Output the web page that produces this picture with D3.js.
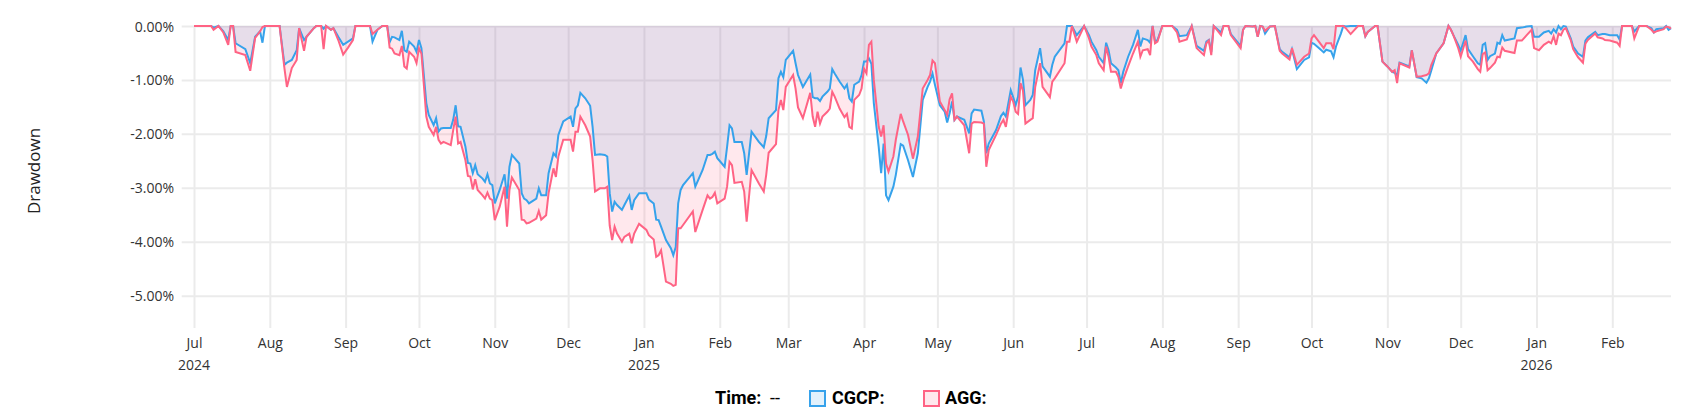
<!DOCTYPE html>
<html><head><meta charset="utf-8">
<script src="https://cdn.jsdelivr.net/npm/d3@7"></script>
<style>
html,body{margin:0;padding:0;background:#fff;}
svg{display:block;}
</style></head>
<body>
<svg id="chart" width="1692" height="408"></svg>
<script>
const dates = ["2024-07-01","2024-07-08","2024-07-09","2024-07-11","2024-07-13","2024-07-15","2024-07-16","2024-07-17","2024-07-18","2024-07-22","2024-07-24","2024-07-26","2024-07-28","2024-07-29","2024-07-30","2024-08-05","2024-08-07","2024-08-08","2024-08-10","2024-08-12","2024-08-13","2024-08-15","2024-08-16","2024-08-19","2024-08-20","2024-08-22","2024-08-23","2024-08-24","2024-08-26","2024-08-27","2024-08-29","2024-08-31","2024-09-02","2024-09-04","2024-09-05","2024-09-11","2024-09-12","2024-09-14","2024-09-16","2024-09-18","2024-09-19","2024-09-20","2024-09-21","2024-09-23","2024-09-24","2024-09-25","2024-09-26","2024-09-27","2024-09-29","2024-09-30","2024-10-01","2024-10-02","2024-10-04","2024-10-05","2024-10-07","2024-10-08","2024-10-09","2024-10-10","2024-10-11","2024-10-14","2024-10-15","2024-10-16","2024-10-17","2024-10-18","2024-10-20","2024-10-21","2024-10-22","2024-10-23","2024-10-24","2024-10-25","2024-10-27","2024-10-28","2024-10-29","2024-10-30","2024-10-31","2024-11-01","2024-11-03","2024-11-05","2024-11-06","2024-11-07","2024-11-08","2024-11-11","2024-11-12","2024-11-13","2024-11-14","2024-11-15","2024-11-18","2024-11-19","2024-11-20","2024-11-22","2024-11-23","2024-11-25","2024-11-26","2024-11-27","2024-11-29","2024-12-02","2024-12-03","2024-12-04","2024-12-05","2024-12-06","2024-12-08","2024-12-10","2024-12-11","2024-12-12","2024-12-14","2024-12-16","2024-12-17","2024-12-18","2024-12-19","2024-12-20","2024-12-21","2024-12-23","2024-12-24","2024-12-26","2024-12-27","2024-12-28","2024-12-30","2025-01-02","2025-01-03","2025-01-05","2025-01-06","2025-01-07","2025-01-08","2025-01-10","2025-01-12","2025-01-13","2025-01-14","2025-01-15","2025-01-16","2025-01-17","2025-01-21","2025-01-22","2025-01-25","2025-01-27","2025-01-28","2025-01-29","2025-01-30","2025-01-31","2025-02-03","2025-02-04","2025-02-05","2025-02-06","2025-02-07","2025-02-10","2025-02-11","2025-02-12","2025-02-14","2025-02-17","2025-02-19","2025-02-20","2025-02-21","2025-02-24","2025-02-25","2025-02-26","2025-02-27","2025-02-28","2025-03-03","2025-03-04","2025-03-05","2025-03-07","2025-03-10","2025-03-11","2025-03-12","2025-03-13","2025-03-14","2025-03-15","2025-03-17","2025-03-18","2025-03-19","2025-03-20","2025-03-22","2025-03-24","2025-03-25","2025-03-26","2025-03-27","2025-03-28","2025-03-30","2025-03-31","2025-04-01","2025-04-02","2025-04-03","2025-04-04","2025-04-05","2025-04-07","2025-04-08","2025-04-09","2025-04-10","2025-04-11","2025-04-13","2025-04-14","2025-04-16","2025-04-17","2025-04-19","2025-04-21","2025-04-23","2025-04-25","2025-04-27","2025-04-28","2025-04-29","2025-04-30","2025-05-02","2025-05-04","2025-05-05","2025-05-06","2025-05-07","2025-05-08","2025-05-09","2025-05-12","2025-05-14","2025-05-15","2025-05-16","2025-05-19","2025-05-20","2025-05-21","2025-05-22","2025-05-25","2025-05-27","2025-05-28","2025-05-29","2025-05-31","2025-06-01","2025-06-02","2025-06-03","2025-06-04","2025-06-05","2025-06-06","2025-06-08","2025-06-09","2025-06-10","2025-06-12","2025-06-13","2025-06-16","2025-06-17","2025-06-18","2025-06-22","2025-06-23","2025-06-24","2025-06-25","2025-06-27","2025-06-30","2025-07-02","2025-07-03","2025-07-05","2025-07-06","2025-07-08","2025-07-09","2025-07-10","2025-07-11","2025-07-13","2025-07-14","2025-07-15","2025-07-16","2025-07-18","2025-07-20","2025-07-22","2025-07-23","2025-07-24","2025-07-26","2025-07-27","2025-07-28","2025-07-29","2025-07-30","2025-08-01","2025-08-05","2025-08-07","2025-08-08","2025-08-11","2025-08-13","2025-08-15","2025-08-18","2025-08-19","2025-08-20","2025-08-21","2025-08-22","2025-08-25","2025-08-26","2025-08-28","2025-08-29","2025-09-02","2025-09-03","2025-09-04","2025-09-07","2025-09-08","2025-09-09","2025-09-10","2025-09-11","2025-09-12","2025-09-14","2025-09-16","2025-09-18","2025-09-19","2025-09-22","2025-09-23","2025-09-25","2025-09-28","2025-09-30","2025-10-01","2025-10-02","2025-10-04","2025-10-06","2025-10-07","2025-10-09","2025-10-10","2025-10-11","2025-10-13","2025-10-14","2025-10-15","2025-10-17","2025-10-20","2025-10-22","2025-10-23","2025-10-24","2025-10-27","2025-10-28","2025-10-30","2025-11-01","2025-11-03","2025-11-04","2025-11-05","2025-11-06","2025-11-10","2025-11-11","2025-11-13","2025-11-15","2025-11-17","2025-11-18","2025-11-19","2025-11-21","2025-11-24","2025-11-26","2025-11-27","2025-11-28","2025-11-30","2025-12-01","2025-12-03","2025-12-04","2025-12-06","2025-12-08","2025-12-09","2025-12-10","2025-12-11","2025-12-12","2025-12-13","2025-12-15","2025-12-16","2025-12-17","2025-12-18","2025-12-19","2025-12-23","2025-12-24","2025-12-26","2025-12-28","2025-12-30","2025-12-31","2026-01-02","2026-01-04","2026-01-06","2026-01-07","2026-01-08","2026-01-09","2026-01-10","2026-01-11","2026-01-12","2026-01-13","2026-01-15","2026-01-16","2026-01-18","2026-01-20","2026-01-21","2026-01-22","2026-01-25","2026-01-26","2026-01-28","2026-01-29","2026-01-31","2026-02-03","2026-02-04","2026-02-05","2026-02-09","2026-02-10","2026-02-12","2026-02-15","2026-02-17","2026-02-18","2026-02-19","2026-02-22","2026-02-23","2026-02-24","2026-02-25"];

const cgcp = [0,0,-0.03,0,-0.1,-0.26,0,0,-0.32,-0.43,-0.69,-0.2,-0.1,-0.31,0,0,-0.72,-0.68,-0.63,-0.45,-0.04,-0.26,-0.2,-0.04,0,0,-0.05,0,-0.07,-0.04,-0.2,-0.35,-0.29,-0.23,0,0,-0.29,-0.07,0,0,-0.3,-0.2,-0.21,-0.26,-0.09,-0.45,-0.48,-0.29,-0.38,-0.48,-0.26,-0.41,-1.43,-1.65,-1.84,-1.71,-1.96,-1.9,-1.89,-1.89,-1.74,-1.47,-1.86,-1.87,-2.24,-2.54,-2.55,-2.73,-2.58,-2.75,-2.83,-2.89,-2.75,-2.92,-2.95,-3.29,-3.04,-2.75,-3.2,-2.61,-2.39,-2.55,-3.1,-3.2,-3.23,-3.29,-3.2,-3.01,-3.14,-3.14,-2.73,-2.36,-2.42,-2.02,-1.77,-1.68,-1.87,-1.53,-1.47,-1.24,-1.34,-1.48,-1.87,-2.39,-2.38,-2.39,-2.42,-3.1,-3.44,-3.26,-3.32,-3.41,-3.32,-3.15,-3.41,-3.23,-3.1,-3.1,-3.22,-3.29,-3.59,-3.6,-3.72,-3.97,-4.12,-4.25,-4.1,-3.29,-3.04,-2.95,-2.73,-2.98,-2.67,-2.39,-2.39,-2.37,-2.33,-2.45,-2.61,-2.24,-1.84,-1.9,-2.15,-2.15,-2.36,-2.76,-1.96,-2.15,-2.25,-2.04,-1.71,-1.56,-0.97,-0.85,-0.95,-0.63,-0.46,-0.69,-0.91,-1.13,-0.9,-1.32,-1.34,-1.34,-1.39,-1.31,-1.22,-1.16,-0.8,-0.88,-1.03,-1.16,-1.09,-1.34,-1.4,-1.09,-1.03,-0.91,-0.66,-0.66,-0.6,-0.7,-1.43,-2.24,-2.73,-2.18,-3.14,-3.23,-2.98,-2.76,-2.19,-2.22,-2.49,-2.8,-2.36,-1.37,-1.13,-1.03,-0.88,-1.09,-1.47,-1.59,-1.79,-1.62,-1.4,-1.74,-1.68,-1.74,-1.99,-1.62,-1.55,-1.57,-1.77,-2.36,-2.18,-1.93,-1.67,-1.61,-1.68,-1.19,-1.32,-1.47,-1.31,-0.77,-1.0,-1.47,-1.37,-1.28,-0.82,-0.41,-0.75,-0.94,-0.72,-0.57,-0.32,0,0,0,-0.17,0,-0.17,-0.29,-0.45,-0.57,-0.69,-0.31,-0.45,-0.69,-0.77,-0.82,-1.06,-0.85,-0.57,-0.35,-0.07,-0.38,-0.23,-0.26,-0.31,0,-0.29,-0.26,0,0,-0.07,-0.19,-0.17,0,-0.37,-0.46,-0.29,-0.26,-0.48,0,-0.12,0,0,-0.15,-0.37,-0.07,0,-0.01,0,-0.2,0,-0.01,-0.14,-0.01,0,-0.43,-0.48,-0.58,-0.43,-0.8,-0.63,-0.58,-0.31,-0.33,-0.41,-0.49,-0.44,-0.47,-0.58,-0.38,-0.14,0,-0.01,0,0,0,-0.19,-0.11,0,0,-0.66,-0.75,-0.85,-0.87,-0.91,-0.68,-0.75,-0.45,-0.95,-0.97,-1.05,-0.97,-0.82,-0.51,-0.32,0,-0.07,-0.17,-0.35,-0.46,-0.17,-0.43,-0.56,-0.69,-0.72,-0.35,-0.32,-0.63,-0.56,-0.51,-0.31,-0.33,-0.17,-0.27,-0.23,-0.04,-0.03,-0.01,0,-0.2,-0.2,-0.12,-0.09,-0.14,-0.06,-0.12,0,-0.06,0,-0.01,-0.23,-0.38,-0.51,-0.57,-0.27,-0.21,-0.11,-0.17,-0.15,-0.15,-0.17,-0.17,-0.25,0,0,-0.1,0,0,-0.04,-0.12,-0.06,-0.04,0,-0.07,-0.04];

const agg = [0,0,-0.07,0,-0.12,-0.35,0,0,-0.48,-0.54,-0.83,-0.22,-0.1,-0.02,0,0,-0.79,-1.13,-0.78,-0.63,-0.04,-0.46,-0.2,-0.04,0,0,-0.43,0,-0.07,-0.04,-0.26,-0.53,-0.4,-0.26,0,0,-0.15,-0.07,0,0,-0.4,-0.42,-0.51,-0.54,-0.37,-0.75,-0.79,-0.48,-0.57,-0.69,-0.41,-0.51,-1.68,-1.87,-2.02,-1.87,-2.11,-2.18,-2.15,-2.21,-1.93,-1.68,-2.18,-2.15,-2.49,-2.78,-2.79,-3.03,-2.84,-3.04,-3.14,-3.2,-3.09,-3.2,-3.23,-3.6,-3.35,-2.98,-3.72,-3.04,-2.81,-3.04,-3.59,-3.6,-3.66,-3.65,-3.57,-3.43,-3.59,-3.51,-3.1,-2.64,-2.8,-2.42,-2.11,-2.11,-2.33,-1.96,-1.96,-1.68,-1.84,-2.05,-2.49,-3.07,-3.01,-3.01,-2.98,-3.7,-3.97,-3.72,-3.85,-4.0,-3.91,-3.85,-4.03,-3.85,-3.67,-3.78,-3.88,-3.96,-4.28,-4.25,-4.16,-4.74,-4.78,-4.82,-4.8,-3.75,-3.75,-3.69,-3.44,-3.82,-3.41,-3.14,-3.2,-3.17,-3.09,-3.29,-3.2,-2.98,-2.52,-2.58,-2.91,-2.89,-3.07,-3.63,-2.67,-2.92,-3.07,-2.76,-2.35,-2.19,-1.56,-1.37,-1.56,-1.13,-0.91,-1.16,-1.51,-1.71,-1.24,-1.68,-1.87,-1.59,-1.81,-1.68,-1.59,-1.53,-1.22,-1.31,-1.53,-1.69,-1.63,-1.87,-1.9,-1.37,-1.28,-1.16,-0.79,-0.88,-0.35,-0.29,-1.0,-1.87,-2.05,-1.84,-2.55,-2.7,-2.42,-2.11,-1.63,-1.77,-2.02,-2.46,-2.05,-1.16,-1.0,-0.91,-0.64,-0.69,-1.4,-1.56,-1.65,-1.36,-1.25,-1.74,-1.68,-1.84,-2.36,-1.81,-1.78,-1.79,-1.81,-2.61,-2.3,-2.02,-1.81,-1.74,-1.87,-1.31,-1.4,-1.59,-1.63,-1.06,-1.2,-1.81,-1.74,-1.71,-1.13,-0.69,-1.13,-1.32,-1.03,-0.97,-0.69,-0.29,-0.29,0,-0.29,0,-0.23,-0.38,-0.54,-0.69,-0.82,-0.38,-0.57,-0.85,-0.85,-0.94,-1.16,-1.0,-0.75,-0.51,-0.29,-0.57,-0.45,-0.43,-0.54,0,-0.32,-0.29,0,0,-0.12,-0.29,-0.25,0,-0.41,-0.54,-0.32,-0.27,-0.54,0,-0.17,0,0,-0.17,-0.41,-0.07,0,-0.01,0,-0.2,0,-0.01,-0.09,-0.01,0,-0.46,-0.51,-0.62,-0.41,-0.72,-0.57,-0.51,-0.23,-0.17,-0.29,-0.41,-0.32,-0.32,-0.43,0,0,0,-0.04,-0.15,0,0,-0.19,-0.11,0,0,-0.66,-0.75,-0.85,-0.82,-1.06,-0.69,-0.77,-0.45,-0.94,-0.93,-0.91,-0.88,-0.72,-0.51,-0.32,0,-0.07,-0.17,-0.41,-0.57,-0.27,-0.56,-0.66,-0.8,-0.85,-0.52,-0.49,-0.82,-0.78,-0.68,-0.57,-0.58,-0.4,-0.46,-0.5,-0.27,-0.27,-0.17,-0.07,-0.41,-0.45,-0.35,-0.29,-0.32,-0.19,-0.35,-0.14,-0.17,-0.07,-0.04,-0.26,-0.43,-0.58,-0.68,-0.33,-0.26,-0.14,-0.21,-0.23,-0.26,-0.27,-0.31,-0.37,0,0,-0.23,0,0,-0.07,-0.12,-0.1,-0.06,-0.01,-0.02,-0.05];

const yTicks = [0, -1, -2, -3, -4, -5];
const yearLabels = [["2024-07-01","2024"],["2025-01-01","2025"],["2026-01-01","2026"]];
const seriesNames = ["CGCP", "AGG"];

const parse = d3.timeParse("%Y-%m-%d");
const data = dates.map((d, i) => ({date: parse(d), cgcp: cgcp[i], agg: agg[i]}));

const svg = d3.select("#chart");
const L = 194, R = 1671, T = 26, B = 328;

const x = d3.scaleTime().domain([parse("2024-07-01"), parse("2026-02-25")]).range([L, R]);
const y = d3.scaleLinear().domain([-5.6, 0]).range([B, T]);

const gridColor = "#ebebeb";
const tickFont = "'Open Sans', 'Noto Sans', sans-serif";

// Y axis + horizontal grid
const yAxis = svg.append("g").attr("transform", `translate(${L - 12.3},0)`)
  .call(d3.axisLeft(y).tickValues(yTicks).tickSize(-(R - L + 12.3)).tickPadding(7.7)
    .tickFormat(d => d.toFixed(2) + "%"));
yAxis.select(".domain").remove();
yAxis.selectAll("line").attr("stroke", gridColor).attr("stroke-width", 2);
yAxis.selectAll("text").attr("font-family", tickFont).attr("font-size", 14).attr("fill", "#333").attr("dy", "0.36em");

// X axis + vertical grid
const xAxis = svg.append("g").attr("transform", `translate(0,${T})`)
  .call(d3.axisBottom(x).ticks(d3.timeMonth.every(1)).tickSize(B - T).tickPadding(10)
    .tickFormat(d3.timeFormat("%b")));
xAxis.select(".domain").remove();
xAxis.selectAll("line").attr("stroke", gridColor).attr("stroke-width", 2);
xAxis.selectAll("text").attr("font-family", tickFont).attr("font-size", 14).attr("fill", "#333");

svg.append("g").selectAll("text").data(yearLabels).join("text")
  .attr("x", d => x(parse(d[0]))).attr("y", 370)
  .attr("text-anchor", "middle").attr("font-family", tickFont).attr("font-size", 14).attr("fill", "#333")
  .text(d => d[1]);

// Y title
svg.append("text").attr("transform", "translate(40,171) rotate(-90)")
  .attr("text-anchor", "middle").attr("font-family", tickFont).attr("font-size", 17).attr("fill", "#222")
  .text("Drawdown");

// fills
const blue = "#36A2EB", pink = "#FF6384";
const areaC = d3.area().x(d => x(d.date)).y0(y(0)).y1(d => y(d.cgcp));
const areaA = d3.area().x(d => x(d.date)).y0(y(0)).y1(d => y(d.agg));
svg.append("path").datum(data).attr("d", areaC).attr("fill", blue).attr("fill-opacity", 0.14);
svg.append("path").datum(data).attr("d", areaA).attr("fill", pink).attr("fill-opacity", 0.15);

const lineC = d3.line().x(d => x(d.date)).y(d => y(d.cgcp));
const lineA = d3.line().x(d => x(d.date)).y(d => y(d.agg));
svg.append("path").datum(data).attr("d", lineC).attr("fill", "none").attr("stroke", blue).attr("stroke-width", 2).attr("stroke-linejoin", "miter");
svg.append("path").datum(data).attr("d", lineA).attr("fill", "none").attr("stroke", pink).attr("stroke-width", 2).attr("stroke-linejoin", "miter");

// Legend
const lg = svg.append("g").attr("font-family", "Roboto, sans-serif").attr("font-size", 18);
lg.append("text").attr("x", 715).attr("y", 404).attr("font-weight", "bold").attr("fill", "#000").text("Time:");
lg.append("text").attr("x", 770).attr("y", 404).attr("fill", "#000").text("--");
const legendItems = [
  {name: seriesNames[0], color: blue, bx: 810, tx: 832},
  {name: seriesNames[1], color: pink, bx: 924, tx: 945}
];
legendItems.forEach(it => {
  lg.append("rect").attr("x", it.bx).attr("y", 391).attr("width", 15).attr("height", 15)
    .attr("fill", it.color).attr("fill-opacity", 0.15).attr("stroke", it.color).attr("stroke-width", 2);
  lg.append("text").attr("x", it.tx).attr("y", 404).attr("font-weight", "bold").attr("fill", "#000").text(it.name + ":");
});
</script>
</body></html>
